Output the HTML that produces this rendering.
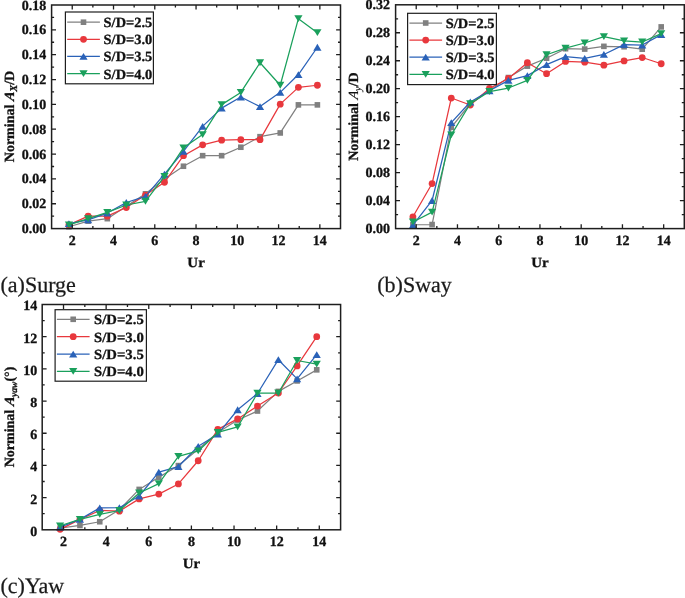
<!DOCTYPE html>
<html><head><meta charset="utf-8"><title>Figure</title>
<style>
html,body{margin:0;padding:0;background:#fff;}
body{width:685px;height:598px;overflow:hidden;}
svg{display:block;text-rendering:geometricPrecision;}
text{font-family:'Liberation Serif', 'Times New Roman', serif;fill:#111;}
.b{font-size:14.0px;font-weight:bold;stroke:#111;stroke-width:0.3px;}
.bi{font-style:italic;font-weight:normal;stroke-width:0.15px;}
.bbi{font-style:italic;font-weight:bold;}
.hid{fill:none;stroke:none;}
.cap{font-size:22.0px;font-weight:normal;fill:#1a1a1a;stroke:#1a1a1a;stroke-width:0.25px;}
</style></head>
<body>
<svg width="685" height="598" viewBox="0 0 685 598">
<rect width="685" height="598" fill="#fff"/>
<polyline points="68.93,226.74 88.13,221.15 107.32,218.66 126.30,206.24 145.49,193.82 164.48,178.91 183.46,166.24 202.65,155.68 221.64,155.68 240.83,147.23 260.02,136.68 280.24,132.95 298.40,104.87 317.39,104.87" fill="none" stroke="#808080" stroke-width="1.25" stroke-linejoin="round"/>
<rect x="66.13" y="223.94" width="5.60" height="5.60" fill="#808080"/>
<rect x="85.33" y="218.35" width="5.60" height="5.60" fill="#808080"/>
<rect x="104.52" y="215.86" width="5.60" height="5.60" fill="#808080"/>
<rect x="123.50" y="203.44" width="5.60" height="5.60" fill="#808080"/>
<rect x="142.69" y="191.02" width="5.60" height="5.60" fill="#808080"/>
<rect x="161.68" y="176.11" width="5.60" height="5.60" fill="#808080"/>
<rect x="180.66" y="163.44" width="5.60" height="5.60" fill="#808080"/>
<rect x="199.85" y="152.88" width="5.60" height="5.60" fill="#808080"/>
<rect x="218.84" y="152.88" width="5.60" height="5.60" fill="#808080"/>
<rect x="238.03" y="144.43" width="5.60" height="5.60" fill="#808080"/>
<rect x="257.22" y="133.88" width="5.60" height="5.60" fill="#808080"/>
<rect x="277.44" y="130.15" width="5.60" height="5.60" fill="#808080"/>
<rect x="295.60" y="102.07" width="5.60" height="5.60" fill="#808080"/>
<rect x="314.59" y="102.07" width="5.60" height="5.60" fill="#808080"/>
<polyline points="68.93,224.87 88.13,216.18 107.32,216.18 126.30,207.48 145.49,195.06 164.48,182.27 183.46,155.68 202.65,144.87 221.64,140.15 240.83,139.66 260.02,139.66 280.24,104.13 298.40,87.36 317.39,85.25" fill="none" stroke="#e8383d" stroke-width="1.25" stroke-linejoin="round"/>
<circle cx="68.93" cy="224.87" r="3.40" fill="#e8383d"/>
<circle cx="88.13" cy="216.18" r="3.40" fill="#e8383d"/>
<circle cx="107.32" cy="216.18" r="3.40" fill="#e8383d"/>
<circle cx="126.30" cy="207.48" r="3.40" fill="#e8383d"/>
<circle cx="145.49" cy="195.06" r="3.40" fill="#e8383d"/>
<circle cx="164.48" cy="182.27" r="3.40" fill="#e8383d"/>
<circle cx="183.46" cy="155.68" r="3.40" fill="#e8383d"/>
<circle cx="202.65" cy="144.87" r="3.40" fill="#e8383d"/>
<circle cx="221.64" cy="140.15" r="3.40" fill="#e8383d"/>
<circle cx="240.83" cy="139.66" r="3.40" fill="#e8383d"/>
<circle cx="260.02" cy="139.66" r="3.40" fill="#e8383d"/>
<circle cx="280.24" cy="104.13" r="3.40" fill="#e8383d"/>
<circle cx="298.40" cy="87.36" r="3.40" fill="#e8383d"/>
<circle cx="317.39" cy="85.25" r="3.40" fill="#e8383d"/>
<polyline points="68.93,223.63 88.13,219.90 107.32,213.07 126.30,202.51 145.49,196.30 164.48,174.07 183.46,151.46 202.65,126.37 221.64,108.10 240.83,97.05 260.02,106.61 280.24,92.33 298.40,74.56 317.39,47.24" fill="none" stroke="#2a62b8" stroke-width="1.25" stroke-linejoin="round"/>
<polygon points="68.93,220.23 73.03,227.03 64.83,227.03" fill="#2a62b8"/>
<polygon points="88.13,216.50 92.23,223.30 84.03,223.30" fill="#2a62b8"/>
<polygon points="107.32,209.67 111.42,216.47 103.22,216.47" fill="#2a62b8"/>
<polygon points="126.30,199.11 130.40,205.91 122.20,205.91" fill="#2a62b8"/>
<polygon points="145.49,192.90 149.59,199.70 141.39,199.70" fill="#2a62b8"/>
<polygon points="164.48,170.67 168.58,177.47 160.38,177.47" fill="#2a62b8"/>
<polygon points="183.46,148.06 187.56,154.86 179.36,154.86" fill="#2a62b8"/>
<polygon points="202.65,122.97 206.75,129.77 198.55,129.77" fill="#2a62b8"/>
<polygon points="221.64,104.70 225.74,111.50 217.54,111.50" fill="#2a62b8"/>
<polygon points="240.83,93.65 244.93,100.45 236.73,100.45" fill="#2a62b8"/>
<polygon points="260.02,103.21 264.12,110.01 255.92,110.01" fill="#2a62b8"/>
<polygon points="280.24,88.93 284.34,95.73 276.14,95.73" fill="#2a62b8"/>
<polygon points="298.40,71.16 302.50,77.96 294.30,77.96" fill="#2a62b8"/>
<polygon points="317.39,43.84 321.49,50.64 313.29,50.64" fill="#2a62b8"/>
<polyline points="68.93,224.87 88.13,218.66 107.32,212.45 126.30,205.00 145.49,201.27 164.48,176.43 183.46,147.86 202.65,134.56 221.64,104.63 240.83,92.45 260.02,62.76 280.24,85.25 298.40,18.66 317.39,32.70" fill="none" stroke="#1aa05c" stroke-width="1.25" stroke-linejoin="round"/>
<polygon points="64.83,221.47 73.03,221.47 68.93,228.27" fill="#1aa05c"/>
<polygon points="84.03,215.26 92.23,215.26 88.13,222.06" fill="#1aa05c"/>
<polygon points="103.22,209.05 111.42,209.05 107.32,215.85" fill="#1aa05c"/>
<polygon points="122.20,201.60 130.40,201.60 126.30,208.40" fill="#1aa05c"/>
<polygon points="141.39,197.87 149.59,197.87 145.49,204.67" fill="#1aa05c"/>
<polygon points="160.38,173.03 168.58,173.03 164.48,179.83" fill="#1aa05c"/>
<polygon points="179.36,144.46 187.56,144.46 183.46,151.26" fill="#1aa05c"/>
<polygon points="198.55,131.16 206.75,131.16 202.65,137.96" fill="#1aa05c"/>
<polygon points="217.54,101.23 225.74,101.23 221.64,108.03" fill="#1aa05c"/>
<polygon points="236.73,89.05 244.93,89.05 240.83,95.85" fill="#1aa05c"/>
<polygon points="255.92,59.36 264.12,59.36 260.02,66.16" fill="#1aa05c"/>
<polygon points="276.14,81.85 284.34,81.85 280.24,88.65" fill="#1aa05c"/>
<polygon points="294.30,15.26 302.50,15.26 298.40,22.06" fill="#1aa05c"/>
<polygon points="313.29,29.30 321.49,29.30 317.39,36.10" fill="#1aa05c"/>
<path d="M72.24,228.60V224.20M72.24,5.00V9.40M92.87,228.60V226.10M92.87,5.00V7.50M113.51,228.60V224.20M113.51,5.00V9.40M134.14,228.60V226.10M134.14,5.00V7.50M154.78,228.60V224.20M154.78,5.00V9.40M175.41,228.60V226.10M175.41,5.00V7.50M196.05,228.60V224.20M196.05,5.00V9.40M216.69,228.60V226.10M216.69,5.00V7.50M237.32,228.60V224.20M237.32,5.00V9.40M257.96,228.60V226.10M257.96,5.00V7.50M278.59,228.60V224.20M278.59,5.00V9.40M299.23,228.60V226.10M299.23,5.00V7.50M319.86,228.60V224.20M319.86,5.00V9.40M51.60,216.18H54.10M340.50,216.18H338.00M51.60,203.76H56.00M340.50,203.76H336.10M51.60,191.33H54.10M340.50,191.33H338.00M51.60,178.91H56.00M340.50,178.91H336.10M51.60,166.49H54.10M340.50,166.49H338.00M51.60,154.07H56.00M340.50,154.07H336.10M51.60,141.64H54.10M340.50,141.64H338.00M51.60,129.22H56.00M340.50,129.22H336.10M51.60,116.80H54.10M340.50,116.80H338.00M51.60,104.38H56.00M340.50,104.38H336.10M51.60,91.96H54.10M340.50,91.96H338.00M51.60,79.53H56.00M340.50,79.53H336.10M51.60,67.11H54.10M340.50,67.11H338.00M51.60,54.69H56.00M340.50,54.69H336.10M51.60,42.27H54.10M340.50,42.27H338.00M51.60,29.84H56.00M340.50,29.84H336.10M51.60,17.42H54.10M340.50,17.42H338.00" stroke="#1e1e1e" stroke-width="1.3" fill="none"/>
<rect x="51.60" y="5.00" width="288.90" height="223.60" fill="none" stroke="#1e1e1e" stroke-width="1.5"/>
<text x="46.20" y="233.10" text-anchor="end" class="b">0.00</text>
<text x="46.20" y="208.26" text-anchor="end" class="b">0.02</text>
<text x="46.20" y="183.41" text-anchor="end" class="b">0.04</text>
<text x="46.20" y="158.57" text-anchor="end" class="b">0.06</text>
<text x="46.20" y="133.72" text-anchor="end" class="b">0.08</text>
<text x="46.20" y="108.88" text-anchor="end" class="b">0.10</text>
<text x="46.20" y="84.03" text-anchor="end" class="b">0.12</text>
<text x="46.20" y="59.19" text-anchor="end" class="b">0.14</text>
<text x="46.20" y="34.34" text-anchor="end" class="b">0.16</text>
<text x="46.20" y="9.50" text-anchor="end" class="b">0.18</text>
<text x="72.24" y="245.10" text-anchor="middle" class="b">2</text>
<text x="113.51" y="245.10" text-anchor="middle" class="b">4</text>
<text x="154.78" y="245.10" text-anchor="middle" class="b">6</text>
<text x="196.05" y="245.10" text-anchor="middle" class="b">8</text>
<text x="237.32" y="245.10" text-anchor="middle" class="b">10</text>
<text x="278.59" y="245.10" text-anchor="middle" class="b">12</text>
<text x="319.86" y="245.10" text-anchor="middle" class="b">14</text>
<text transform="translate(196.05,267.20) scale(1.07,1)" text-anchor="middle" class="b">Ur</text>
<text id="ta" transform="translate(14.40,116.50) rotate(-90)" text-anchor="middle" class="b">Norminal <tspan class="bbi hid">A</tspan><tspan class="bbi" font-size="10.5" dy="3">X</tspan><tspan dy="-3">/D</tspan></text>
<text transform="translate(14.40,116.50) rotate(-90) translate(15.35,0) skewX(-10)" class="b bbi">A</text>
<rect x="65.40" y="12.00" width="88.00" height="71.80" fill="#fff" stroke="#1e1e1e" stroke-width="1.2"/>
<line x1="67.20" y1="22.20" x2="99.90" y2="22.20" stroke="#808080" stroke-width="1.25"/>
<rect x="80.70" y="19.40" width="5.60" height="5.60" fill="#808080"/>
<text transform="translate(103.60,27.20) scale(1.03,1)" class="b">S/D=2.5</text>
<line x1="67.20" y1="39.33" x2="99.90" y2="39.33" stroke="#e8383d" stroke-width="1.25"/>
<circle cx="83.50" cy="39.33" r="3.40" fill="#e8383d"/>
<text transform="translate(103.60,44.33) scale(1.03,1)" class="b">S/D=3.0</text>
<line x1="67.20" y1="56.46" x2="99.90" y2="56.46" stroke="#2a62b8" stroke-width="1.25"/>
<polygon points="83.50,53.06 87.60,59.86 79.40,59.86" fill="#2a62b8"/>
<text transform="translate(103.60,61.46) scale(1.03,1)" class="b">S/D=3.5</text>
<line x1="67.20" y1="73.59" x2="99.90" y2="73.59" stroke="#1aa05c" stroke-width="1.25"/>
<polygon points="79.40,70.19 87.60,70.19 83.50,76.99" fill="#1aa05c"/>
<text transform="translate(103.60,78.59) scale(1.03,1)" class="b">S/D=4.0</text>
<text x="0.50" y="292.20" class="cap">(a)Surge</text>
<polyline points="412.92,224.75 432.10,224.54 451.28,127.33 470.25,103.76 489.43,90.82 508.40,77.54 527.37,66.14 546.55,58.23 565.52,48.72 584.70,49.07 603.88,46.34 624.09,46.76 642.23,49.21 661.20,26.90" fill="none" stroke="#808080" stroke-width="1.25" stroke-linejoin="round"/>
<rect x="410.12" y="221.95" width="5.60" height="5.60" fill="#808080"/>
<rect x="429.30" y="221.74" width="5.60" height="5.60" fill="#808080"/>
<rect x="448.48" y="124.53" width="5.60" height="5.60" fill="#808080"/>
<rect x="467.45" y="100.96" width="5.60" height="5.60" fill="#808080"/>
<rect x="486.63" y="88.02" width="5.60" height="5.60" fill="#808080"/>
<rect x="505.60" y="74.74" width="5.60" height="5.60" fill="#808080"/>
<rect x="524.57" y="63.34" width="5.60" height="5.60" fill="#808080"/>
<rect x="543.75" y="55.43" width="5.60" height="5.60" fill="#808080"/>
<rect x="562.72" y="45.92" width="5.60" height="5.60" fill="#808080"/>
<rect x="581.90" y="46.27" width="5.60" height="5.60" fill="#808080"/>
<rect x="601.08" y="43.54" width="5.60" height="5.60" fill="#808080"/>
<rect x="621.29" y="43.96" width="5.60" height="5.60" fill="#808080"/>
<rect x="639.43" y="46.41" width="5.60" height="5.60" fill="#808080"/>
<rect x="658.40" y="24.10" width="5.60" height="5.60" fill="#808080"/>
<polyline points="412.92,216.78 432.10,183.56 451.28,98.03 470.25,105.02 489.43,88.52 508.40,78.51 527.37,62.71 546.55,73.69 565.52,61.45 584.70,62.15 603.88,65.16 624.09,60.89 642.23,57.53 661.20,63.76" fill="none" stroke="#e8383d" stroke-width="1.25" stroke-linejoin="round"/>
<circle cx="412.92" cy="216.78" r="3.40" fill="#e8383d"/>
<circle cx="432.10" cy="183.56" r="3.40" fill="#e8383d"/>
<circle cx="451.28" cy="98.03" r="3.40" fill="#e8383d"/>
<circle cx="470.25" cy="105.02" r="3.40" fill="#e8383d"/>
<circle cx="489.43" cy="88.52" r="3.40" fill="#e8383d"/>
<circle cx="508.40" cy="78.51" r="3.40" fill="#e8383d"/>
<circle cx="527.37" cy="62.71" r="3.40" fill="#e8383d"/>
<circle cx="546.55" cy="73.69" r="3.40" fill="#e8383d"/>
<circle cx="565.52" cy="61.45" r="3.40" fill="#e8383d"/>
<circle cx="584.70" cy="62.15" r="3.40" fill="#e8383d"/>
<circle cx="603.88" cy="65.16" r="3.40" fill="#e8383d"/>
<circle cx="624.09" cy="60.89" r="3.40" fill="#e8383d"/>
<circle cx="642.23" cy="57.53" r="3.40" fill="#e8383d"/>
<circle cx="661.20" cy="63.76" r="3.40" fill="#e8383d"/>
<polyline points="412.92,225.10 432.10,200.49 451.28,122.64 470.25,102.01 489.43,90.82 508.40,80.40 527.37,75.65 546.55,64.60 565.52,56.62 584.70,58.37 603.88,54.46 624.09,44.66 642.23,45.01 661.20,34.59" fill="none" stroke="#2a62b8" stroke-width="1.25" stroke-linejoin="round"/>
<polygon points="412.92,221.70 417.02,228.50 408.82,228.50" fill="#2a62b8"/>
<polygon points="432.10,197.09 436.20,203.89 428.00,203.89" fill="#2a62b8"/>
<polygon points="451.28,119.24 455.38,126.04 447.18,126.04" fill="#2a62b8"/>
<polygon points="470.25,98.61 474.35,105.41 466.15,105.41" fill="#2a62b8"/>
<polygon points="489.43,87.42 493.53,94.22 485.33,94.22" fill="#2a62b8"/>
<polygon points="508.40,77.00 512.50,83.80 504.30,83.80" fill="#2a62b8"/>
<polygon points="527.37,72.25 531.47,79.05 523.27,79.05" fill="#2a62b8"/>
<polygon points="546.55,61.20 550.65,68.00 542.45,68.00" fill="#2a62b8"/>
<polygon points="565.52,53.22 569.62,60.02 561.42,60.02" fill="#2a62b8"/>
<polygon points="584.70,54.97 588.80,61.77 580.60,61.77" fill="#2a62b8"/>
<polygon points="603.88,51.06 607.98,57.86 599.78,57.86" fill="#2a62b8"/>
<polygon points="624.09,41.26 628.19,48.06 619.99,48.06" fill="#2a62b8"/>
<polygon points="642.23,41.61 646.33,48.41 638.13,48.41" fill="#2a62b8"/>
<polygon points="661.20,31.19 665.30,37.99 657.10,37.99" fill="#2a62b8"/>
<polyline points="412.92,221.96 432.10,212.09 451.28,134.88 470.25,103.76 489.43,91.52 508.40,88.03 527.37,80.40 546.55,54.74 565.52,48.16 584.70,42.99 603.88,36.62 624.09,40.82 642.23,42.01 661.20,33.61" fill="none" stroke="#1aa05c" stroke-width="1.25" stroke-linejoin="round"/>
<polygon points="408.82,218.56 417.02,218.56 412.92,225.36" fill="#1aa05c"/>
<polygon points="428.00,208.69 436.20,208.69 432.10,215.49" fill="#1aa05c"/>
<polygon points="447.18,131.48 455.38,131.48 451.28,138.28" fill="#1aa05c"/>
<polygon points="466.15,100.36 474.35,100.36 470.25,107.16" fill="#1aa05c"/>
<polygon points="485.33,88.12 493.53,88.12 489.43,94.92" fill="#1aa05c"/>
<polygon points="504.30,84.63 512.50,84.63 508.40,91.43" fill="#1aa05c"/>
<polygon points="523.27,77.00 531.47,77.00 527.37,83.80" fill="#1aa05c"/>
<polygon points="542.45,51.34 550.65,51.34 546.55,58.14" fill="#1aa05c"/>
<polygon points="561.42,44.76 569.62,44.76 565.52,51.56" fill="#1aa05c"/>
<polygon points="580.60,39.59 588.80,39.59 584.70,46.39" fill="#1aa05c"/>
<polygon points="599.78,33.22 607.98,33.22 603.88,40.02" fill="#1aa05c"/>
<polygon points="619.99,37.42 628.19,37.42 624.09,44.22" fill="#1aa05c"/>
<polygon points="638.13,38.61 646.33,38.61 642.23,45.41" fill="#1aa05c"/>
<polygon points="657.10,30.21 665.30,30.21 661.20,37.01" fill="#1aa05c"/>
<path d="M416.22,228.60V224.20M416.22,4.80V9.20M436.84,228.60V226.10M436.84,4.80V7.30M457.46,228.60V224.20M457.46,4.80V9.20M478.09,228.60V226.10M478.09,4.80V7.30M498.71,228.60V224.20M498.71,4.80V9.20M519.33,228.60V226.10M519.33,4.80V7.30M539.95,228.60V224.20M539.95,4.80V9.20M560.57,228.60V226.10M560.57,4.80V7.30M581.19,228.60V224.20M581.19,4.80V9.20M601.81,228.60V226.10M601.81,4.80V7.30M622.44,228.60V224.20M622.44,4.80V9.20M643.06,228.60V226.10M643.06,4.80V7.30M663.68,228.60V224.20M663.68,4.80V9.20M395.60,214.61H398.10M684.30,214.61H681.80M395.60,200.62H400.00M684.30,200.62H679.90M395.60,186.64H398.10M684.30,186.64H681.80M395.60,172.65H400.00M684.30,172.65H679.90M395.60,158.66H398.10M684.30,158.66H681.80M395.60,144.68H400.00M684.30,144.68H679.90M395.60,130.69H398.10M684.30,130.69H681.80M395.60,116.70H400.00M684.30,116.70H679.90M395.60,102.71H398.10M684.30,102.71H681.80M395.60,88.72H400.00M684.30,88.72H679.90M395.60,74.74H398.10M684.30,74.74H681.80M395.60,60.75H400.00M684.30,60.75H679.90M395.60,46.76H398.10M684.30,46.76H681.80M395.60,32.77H400.00M684.30,32.77H679.90M395.60,18.79H398.10M684.30,18.79H681.80" stroke="#1e1e1e" stroke-width="1.3" fill="none"/>
<rect x="395.60" y="4.80" width="288.70" height="223.80" fill="none" stroke="#1e1e1e" stroke-width="1.5"/>
<text x="390.00" y="233.10" text-anchor="end" class="b">0.00</text>
<text x="390.00" y="205.12" text-anchor="end" class="b">0.04</text>
<text x="390.00" y="177.15" text-anchor="end" class="b">0.08</text>
<text x="390.00" y="149.18" text-anchor="end" class="b">0.12</text>
<text x="390.00" y="121.20" text-anchor="end" class="b">0.16</text>
<text x="390.00" y="93.22" text-anchor="end" class="b">0.20</text>
<text x="390.00" y="65.25" text-anchor="end" class="b">0.24</text>
<text x="390.00" y="37.27" text-anchor="end" class="b">0.28</text>
<text x="390.00" y="9.30" text-anchor="end" class="b">0.32</text>
<text x="416.22" y="245.10" text-anchor="middle" class="b">2</text>
<text x="457.46" y="245.10" text-anchor="middle" class="b">4</text>
<text x="498.71" y="245.10" text-anchor="middle" class="b">6</text>
<text x="539.95" y="245.10" text-anchor="middle" class="b">8</text>
<text x="581.19" y="245.10" text-anchor="middle" class="b">10</text>
<text x="622.44" y="245.10" text-anchor="middle" class="b">12</text>
<text x="663.68" y="245.10" text-anchor="middle" class="b">14</text>
<text transform="translate(539.95,267.20) scale(1.07,1)" text-anchor="middle" class="b">Ur</text>
<text id="tb" transform="translate(357.60,116.60) rotate(-90)" text-anchor="middle" class="b">Norminal <tspan class="bi hid">A</tspan><tspan class="bi" font-size="10.5" dy="3">y</tspan><tspan dy="-3">/D</tspan></text>
<text transform="translate(357.60,116.60) rotate(-90) translate(16.91,0) skewX(-10)" class="b bi">A</text>
<rect x="407.60" y="13.30" width="88.80" height="71.30" fill="#fff" stroke="#1e1e1e" stroke-width="1.2"/>
<line x1="409.40" y1="23.00" x2="442.10" y2="23.00" stroke="#808080" stroke-width="1.25"/>
<rect x="422.90" y="20.20" width="5.60" height="5.60" fill="#808080"/>
<text transform="translate(445.80,28.00) scale(1.03,1)" class="b">S/D=2.5</text>
<line x1="409.40" y1="40.10" x2="442.10" y2="40.10" stroke="#e8383d" stroke-width="1.25"/>
<circle cx="425.70" cy="40.10" r="3.40" fill="#e8383d"/>
<text transform="translate(445.80,45.10) scale(1.03,1)" class="b">S/D=3.0</text>
<line x1="409.40" y1="57.20" x2="442.10" y2="57.20" stroke="#2a62b8" stroke-width="1.25"/>
<polygon points="425.70,53.80 429.80,60.60 421.60,60.60" fill="#2a62b8"/>
<text transform="translate(445.80,62.20) scale(1.03,1)" class="b">S/D=3.5</text>
<line x1="409.40" y1="74.30" x2="442.10" y2="74.30" stroke="#1aa05c" stroke-width="1.25"/>
<polygon points="421.60,70.90 429.80,70.90 425.70,77.70" fill="#1aa05c"/>
<text transform="translate(445.80,79.30) scale(1.03,1)" class="b">S/D=4.0</text>
<text x="377.30" y="292.20" class="cap">(b)Sway</text>
<polyline points="60.10,528.19 79.93,525.45 99.75,521.75 119.36,509.68 139.18,489.41 158.79,477.18 178.40,465.59 198.22,449.34 217.83,432.44 237.65,420.05 257.47,411.03 278.36,391.40 297.12,380.94 316.73,369.84" fill="none" stroke="#808080" stroke-width="1.25" stroke-linejoin="round"/>
<rect x="57.30" y="525.39" width="5.60" height="5.60" fill="#808080"/>
<rect x="77.13" y="522.65" width="5.60" height="5.60" fill="#808080"/>
<rect x="96.95" y="518.95" width="5.60" height="5.60" fill="#808080"/>
<rect x="116.56" y="506.88" width="5.60" height="5.60" fill="#808080"/>
<rect x="136.38" y="486.61" width="5.60" height="5.60" fill="#808080"/>
<rect x="155.99" y="474.38" width="5.60" height="5.60" fill="#808080"/>
<rect x="175.60" y="462.79" width="5.60" height="5.60" fill="#808080"/>
<rect x="195.42" y="446.54" width="5.60" height="5.60" fill="#808080"/>
<rect x="215.03" y="429.64" width="5.60" height="5.60" fill="#808080"/>
<rect x="234.85" y="417.25" width="5.60" height="5.60" fill="#808080"/>
<rect x="254.67" y="408.23" width="5.60" height="5.60" fill="#808080"/>
<rect x="275.56" y="388.60" width="5.60" height="5.60" fill="#808080"/>
<rect x="294.32" y="378.14" width="5.60" height="5.60" fill="#808080"/>
<rect x="313.93" y="367.04" width="5.60" height="5.60" fill="#808080"/>
<polyline points="60.10,529.32 79.93,519.34 99.75,510.49 119.36,511.13 139.18,498.90 158.79,494.07 178.40,483.94 198.22,460.76 217.83,429.38 237.65,418.92 257.47,406.05 278.36,393.01 297.12,365.97 316.73,336.69" fill="none" stroke="#e8383d" stroke-width="1.25" stroke-linejoin="round"/>
<circle cx="60.10" cy="529.32" r="3.40" fill="#e8383d"/>
<circle cx="79.93" cy="519.34" r="3.40" fill="#e8383d"/>
<circle cx="99.75" cy="510.49" r="3.40" fill="#e8383d"/>
<circle cx="119.36" cy="511.13" r="3.40" fill="#e8383d"/>
<circle cx="139.18" cy="498.90" r="3.40" fill="#e8383d"/>
<circle cx="158.79" cy="494.07" r="3.40" fill="#e8383d"/>
<circle cx="178.40" cy="483.94" r="3.40" fill="#e8383d"/>
<circle cx="198.22" cy="460.76" r="3.40" fill="#e8383d"/>
<circle cx="217.83" cy="429.38" r="3.40" fill="#e8383d"/>
<circle cx="237.65" cy="418.92" r="3.40" fill="#e8383d"/>
<circle cx="257.47" cy="406.05" r="3.40" fill="#e8383d"/>
<circle cx="278.36" cy="393.01" r="3.40" fill="#e8383d"/>
<circle cx="297.12" cy="365.97" r="3.40" fill="#e8383d"/>
<circle cx="316.73" cy="336.69" r="3.40" fill="#e8383d"/>
<polyline points="60.10,527.06 79.93,519.34 99.75,507.91 119.36,507.75 139.18,496.00 158.79,472.03 178.40,466.56 198.22,446.28 217.83,434.21 237.65,409.75 257.47,393.49 278.36,359.70 297.12,378.85 316.73,354.71" fill="none" stroke="#2a62b8" stroke-width="1.25" stroke-linejoin="round"/>
<polygon points="60.10,523.66 64.20,530.46 56.00,530.46" fill="#2a62b8"/>
<polygon points="79.93,515.94 84.03,522.74 75.83,522.74" fill="#2a62b8"/>
<polygon points="99.75,504.51 103.85,511.31 95.65,511.31" fill="#2a62b8"/>
<polygon points="119.36,504.35 123.46,511.15 115.26,511.15" fill="#2a62b8"/>
<polygon points="139.18,492.60 143.28,499.40 135.08,499.40" fill="#2a62b8"/>
<polygon points="158.79,468.63 162.89,475.43 154.69,475.43" fill="#2a62b8"/>
<polygon points="178.40,463.16 182.50,469.96 174.30,469.96" fill="#2a62b8"/>
<polygon points="198.22,442.88 202.32,449.68 194.12,449.68" fill="#2a62b8"/>
<polygon points="217.83,430.81 221.93,437.61 213.73,437.61" fill="#2a62b8"/>
<polygon points="237.65,406.35 241.75,413.15 233.55,413.15" fill="#2a62b8"/>
<polygon points="257.47,390.09 261.57,396.89 253.37,396.89" fill="#2a62b8"/>
<polygon points="278.36,356.30 282.46,363.10 274.26,363.10" fill="#2a62b8"/>
<polygon points="297.12,375.45 301.22,382.25 293.02,382.25" fill="#2a62b8"/>
<polygon points="316.73,351.31 320.83,358.11 312.63,358.11" fill="#2a62b8"/>
<polyline points="60.10,525.78 79.93,519.34 99.75,514.35 119.36,510.49 139.18,492.95 158.79,483.61 178.40,456.42 198.22,450.94 217.83,432.44 237.65,426.97 257.47,393.17 278.36,393.01 297.12,360.50 316.73,364.20" fill="none" stroke="#1aa05c" stroke-width="1.25" stroke-linejoin="round"/>
<polygon points="56.00,522.38 64.20,522.38 60.10,529.18" fill="#1aa05c"/>
<polygon points="75.83,515.94 84.03,515.94 79.93,522.74" fill="#1aa05c"/>
<polygon points="95.65,510.95 103.85,510.95 99.75,517.75" fill="#1aa05c"/>
<polygon points="115.26,507.09 123.46,507.09 119.36,513.89" fill="#1aa05c"/>
<polygon points="135.08,489.55 143.28,489.55 139.18,496.35" fill="#1aa05c"/>
<polygon points="154.69,480.21 162.89,480.21 158.79,487.01" fill="#1aa05c"/>
<polygon points="174.30,453.02 182.50,453.02 178.40,459.82" fill="#1aa05c"/>
<polygon points="194.12,447.54 202.32,447.54 198.22,454.34" fill="#1aa05c"/>
<polygon points="213.73,429.04 221.93,429.04 217.83,435.84" fill="#1aa05c"/>
<polygon points="233.55,423.57 241.75,423.57 237.65,430.37" fill="#1aa05c"/>
<polygon points="253.37,389.77 261.57,389.77 257.47,396.57" fill="#1aa05c"/>
<polygon points="274.26,389.61 282.46,389.61 278.36,396.41" fill="#1aa05c"/>
<polygon points="293.02,357.10 301.22,357.10 297.12,363.90" fill="#1aa05c"/>
<polygon points="312.63,360.80 320.83,360.80 316.73,367.60" fill="#1aa05c"/>
<path d="M63.51,529.80V525.40M63.51,304.50V308.90M84.83,529.80V527.30M84.83,304.50V307.00M106.14,529.80V525.40M106.14,304.50V308.90M127.46,529.80V527.30M127.46,304.50V307.00M148.77,529.80V525.40M148.77,304.50V308.90M170.09,529.80V527.30M170.09,304.50V307.00M191.40,529.80V525.40M191.40,304.50V308.90M212.71,529.80V527.30M212.71,304.50V307.00M234.03,529.80V525.40M234.03,304.50V308.90M255.34,529.80V527.30M255.34,304.50V307.00M276.66,529.80V525.40M276.66,304.50V308.90M297.97,529.80V527.30M297.97,304.50V307.00M319.29,529.80V525.40M319.29,304.50V308.90M42.20,513.71H44.70M340.60,513.71H338.10M42.20,497.61H46.60M340.60,497.61H336.20M42.20,481.52H44.70M340.60,481.52H338.10M42.20,465.43H46.60M340.60,465.43H336.20M42.20,449.34H44.70M340.60,449.34H338.10M42.20,433.24H46.60M340.60,433.24H336.20M42.20,417.15H44.70M340.60,417.15H338.10M42.20,401.06H46.60M340.60,401.06H336.20M42.20,384.96H44.70M340.60,384.96H338.10M42.20,368.87H46.60M340.60,368.87H336.20M42.20,352.78H44.70M340.60,352.78H338.10M42.20,336.69H46.60M340.60,336.69H336.20M42.20,320.59H44.70M340.60,320.59H338.10" stroke="#1e1e1e" stroke-width="1.3" fill="none"/>
<rect x="42.20" y="304.50" width="298.40" height="225.30" fill="none" stroke="#1e1e1e" stroke-width="1.5"/>
<text x="37.20" y="535.70" text-anchor="end" class="b">0</text>
<text x="37.20" y="503.51" text-anchor="end" class="b">2</text>
<text x="37.20" y="471.33" text-anchor="end" class="b">4</text>
<text x="37.20" y="439.14" text-anchor="end" class="b">6</text>
<text x="37.20" y="406.96" text-anchor="end" class="b">8</text>
<text x="37.20" y="374.77" text-anchor="end" class="b">10</text>
<text x="37.20" y="342.59" text-anchor="end" class="b">12</text>
<text x="37.20" y="310.40" text-anchor="end" class="b">14</text>
<text x="63.51" y="546.30" text-anchor="middle" class="b">2</text>
<text x="106.14" y="546.30" text-anchor="middle" class="b">4</text>
<text x="148.77" y="546.30" text-anchor="middle" class="b">6</text>
<text x="191.40" y="546.30" text-anchor="middle" class="b">8</text>
<text x="234.03" y="546.30" text-anchor="middle" class="b">10</text>
<text x="276.66" y="546.30" text-anchor="middle" class="b">12</text>
<text x="319.29" y="546.30" text-anchor="middle" class="b">14</text>
<text transform="translate(191.40,568.40) scale(1.07,1)" text-anchor="middle" class="b">Ur</text>
<text id="tc" transform="translate(14.40,417.00) rotate(-90)" text-anchor="middle" class="b">Norminal <tspan class="bbi hid">A</tspan><tspan class="bbi" font-size="9.5" dy="3">yaw</tspan><tspan dy="-3">(°)</tspan></text>
<text transform="translate(14.40,417.00) rotate(-90) translate(10.73,0) skewX(-10)" class="b bbi">A</text>
<rect x="55.10" y="309.70" width="91.30" height="71.50" fill="#fff" stroke="#1e1e1e" stroke-width="1.2"/>
<line x1="56.90" y1="319.30" x2="89.60" y2="319.30" stroke="#808080" stroke-width="1.25"/>
<rect x="70.40" y="316.50" width="5.60" height="5.60" fill="#808080"/>
<text transform="translate(94.10,324.30) scale(1.05,1)" class="b">S/D=2.5</text>
<line x1="56.90" y1="336.67" x2="89.60" y2="336.67" stroke="#e8383d" stroke-width="1.25"/>
<circle cx="73.20" cy="336.67" r="3.40" fill="#e8383d"/>
<text transform="translate(94.10,341.67) scale(1.05,1)" class="b">S/D=3.0</text>
<line x1="56.90" y1="354.04" x2="89.60" y2="354.04" stroke="#2a62b8" stroke-width="1.25"/>
<polygon points="73.20,350.64 77.30,357.44 69.10,357.44" fill="#2a62b8"/>
<text transform="translate(94.10,359.04) scale(1.05,1)" class="b">S/D=3.5</text>
<line x1="56.90" y1="371.41" x2="89.60" y2="371.41" stroke="#1aa05c" stroke-width="1.25"/>
<polygon points="69.10,368.01 77.30,368.01 73.20,374.81" fill="#1aa05c"/>
<text transform="translate(94.10,376.41) scale(1.05,1)" class="b">S/D=4.0</text>
<text x="0.50" y="593.00" class="cap">(c)Yaw</text>
</svg>
</body></html>
